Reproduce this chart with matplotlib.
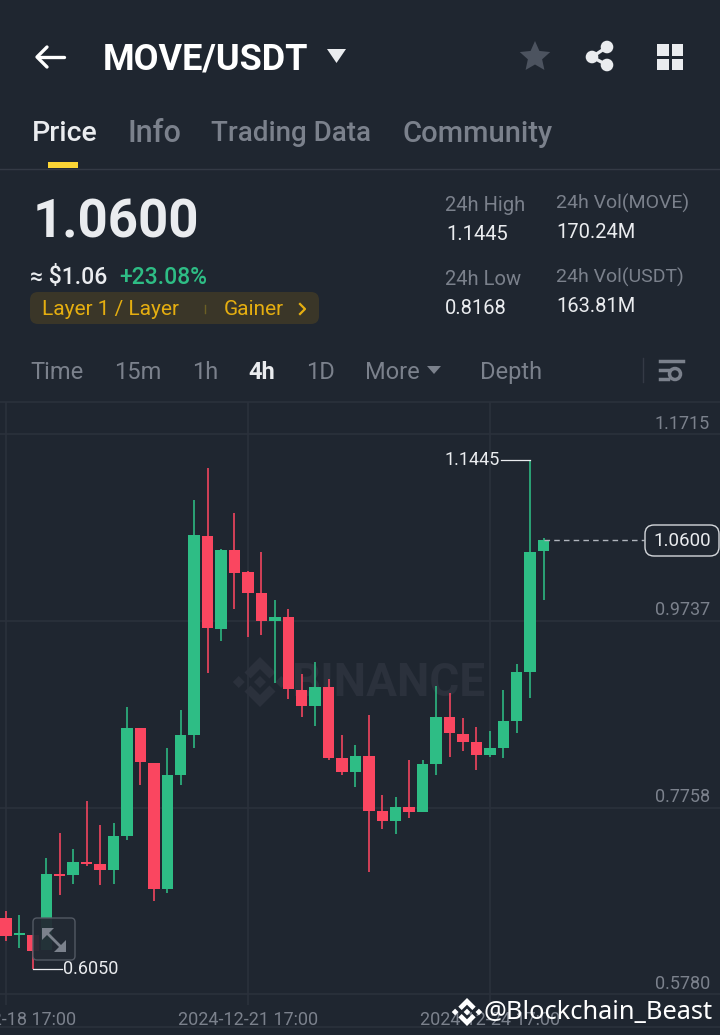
import matplotlib.pyplot as plt
from matplotlib.patches import FancyBboxPatch, Polygon, Circle, Rectangle
import numpy as np

plt.rcParams['font.family'] = ['Roboto', 'DejaVu Sans']

# 4h candles, left to right
opens = [0.6593, 0.6406, 0.6410, 0.6251, 0.7053, 0.7048, 0.7183, 0.7162, 0.7098, 0.7462, 0.8603,
         0.8235, 0.6900, 0.8105, 0.8526, 1.0637, 0.9655, 1.0492, 1.0253, 1.0037, 0.9733, 0.9779,
         0.9009, 0.8839, 0.9041, 0.8285, 0.8140, 0.8309, 0.7720, 0.7617, 0.7766, 0.7710, 0.8225,
         0.8716, 0.8543, 0.8455, 0.8317, 0.8394, 0.8680, 0.9196, 1.0478]
highs = [0.6664, 0.6618, 0.6410, 0.7229, 0.7490, 0.7324, 0.7829, 0.7578, 0.7593, 0.8822, 0.8603,
         0.8235, 0.8391, 0.8794, 1.1022, 1.1358, 1.0503, 1.0878, 1.0267, 1.0468, 0.9959, 0.9861,
         0.9175, 0.9302, 0.9119, 0.8526, 0.8423, 0.8741, 0.7893, 0.7869, 0.8261, 0.8264, 0.9048,
         0.8974, 0.8712, 0.8613, 0.8571, 0.9009, 0.9278, 1.1445, 1.0616]
lows = [0.6349, 0.6275, 0.6050, 0.6251, 0.6830, 0.6950, 0.7144, 0.6942, 0.6950, 0.7419, 0.7999,
        0.6767, 0.6855, 0.7996, 0.8394, 0.9186, 0.9528, 0.9864, 0.9564, 0.9592, 0.9080, 0.8913,
        0.8723, 0.8621, 0.8261, 0.8108, 0.7975, 0.7074, 0.7533, 0.7483, 0.7653, 0.7710, 0.8108,
        0.8299, 0.8362, 0.8161, 0.8296, 0.8288, 0.8547, 0.8924, 0.9956]
closes = [0.6402, 0.6428, 0.6237, 0.7053, 0.7031, 0.7180, 0.7165, 0.7098, 0.7459, 0.8603, 0.8246,
          0.6900, 0.8105, 0.8526, 1.0645, 0.9663, 1.0492, 1.0249, 1.0033, 0.9733, 0.9782, 0.9013,
          0.8839, 0.9041, 0.8285, 0.8140, 0.8309, 0.7723, 0.7621, 0.7766, 0.7716, 0.8225, 0.8716,
          0.8547, 0.8458, 0.8317, 0.8391, 0.8677, 0.9196, 1.0471, 1.0600]

price_ticks = [1.1715, 0.9737, 0.7758, 0.5780]
price_labels = ['1.1715', '0.9737', '0.7758', '0.5780']
time_ticks = [0, 18, 36]
time_labels = ['2024-12-18 17:00', '2024-12-21 17:00', '2024-12-24 17:00']
last_price = 1.0600
high_price = 1.1445
low_price = 0.6050

BG = '#1f2630'
GRID = '#2b313c'
GREEN = '#2ebd85'
RED = '#fa4660'
GREY = '#7b818c'
WHITE = '#eaecef'

W, H = 720, 1035
fig = plt.figure(figsize=(W / 100, H / 100), dpi=100, facecolor=BG)


def px_axes(z):
    a = fig.add_axes([0, 0, 1, 1], zorder=z)
    a.set_xlim(0, W)
    a.set_ylim(H, 0)
    a.axis('off')
    return a


under = px_axes(0)
over = px_axes(2)


def txt(s, x, y, size, color=GREY, weight='normal', ha='left', a=under, **kw):
    # +1.5: centre of the line box sits a bit above the glyphs
    a.text(x, y + 1.5, s, fontsize=size, color=color, fontweight=weight, ha=ha, va='center', **kw)


def diamond_logo(a, cx, cy, r, color):
    # four small diamonds around a centre one
    s = r * 0.24
    for dx, dy in [(0, 0), (-r * 0.85, 0), (r * 0.85, 0)]:
        a.add_patch(Polygon([(cx + dx - s, cy + dy), (cx + dx, cy + dy - s),
                             (cx + dx + s, cy + dy), (cx + dx, cy + dy + s)], color=color, lw=0))
    t = r * 0.24
    for sign in (-1, 1):
        a.add_patch(Polygon([(cx - r * 0.62, cy + sign * r * 0.38), (cx, cy + sign * r),
                             (cx + r * 0.62, cy + sign * r * 0.38), (cx + r * 0.62 - t, cy + sign * r * 0.38 - sign * t),
                             (cx, cy + sign * (r - 2 * t)), (cx - r * 0.62 + t, cy + sign * r * 0.38 - sign * t)],
                            color=color, lw=0))


# header
under.plot([38, 64], [57, 57], color='white', lw=2.4, solid_capstyle='round')
under.plot([47, 37, 47], [47, 57, 67], color='white', lw=2.4, solid_capstyle='round')
txt('MOVE/USDT', 103, 58, 26, 'white', 'bold')
under.add_patch(Polygon([(327, 49), (346, 49), (336.5, 63)], color=WHITE, lw=0))
ang = np.radians(np.arange(0, 360, 36) - 90)
rad = np.where(np.arange(10) % 2 == 0, 16, 7.5)
under.add_patch(Polygon(np.c_[535 + rad * np.cos(ang), 57 + rad * np.sin(ang)], color='#4c535f', lw=0))
under.plot([607, 592, 607], [47, 57, 65], color=WHITE, lw=2.4)
for cx, cy in [(592, 57), (607, 47), (607, 65)]:
    under.add_patch(Circle((cx, cy), 6.3, color=WHITE, lw=0))
for x0 in (657, 671.5):
    for y0 in (44, 58.5):
        under.add_patch(Rectangle((x0, y0), 11.5, 11.5, color=WHITE, lw=0))

# tabs
txt('Price', 32, 132, 20.5, WHITE, 'medium')
txt('Info', 127, 132, 22, GREY, 'medium')
txt('Trading Data', 211, 132, 20, GREY, 'medium')
txt('Community', 403, 132, 21, GREY, 'medium')
under.add_patch(Rectangle((48, 162), 30, 6, color='#fcd535', lw=0))
under.plot([0, W], [168.5, 168.5], color='#343a45', lw=1)

# price block
txt('1.0600', 33, 221, 38, WHITE, 'bold')
txt('≈ $1.06', 30, 276, 16.5, WHITE, 'medium')
txt('+23.08%', 119, 276, 16.5, GREEN, 'medium')
under.add_patch(FancyBboxPatch((36, 298), 277, 20, boxstyle='round,pad=6,rounding_size=8',
                               fc='#3a3628', ec='none'))
txt('Layer 1 / Layer', 42, 308, 15, '#e5ae10')
txt('Gainer', 224, 308, 15, '#e5ae10')
under.plot([204.5, 204.5], [305, 313], color='#6b5f24', lw=1)
under.plot([300, 305, 300], [304, 309, 314], color='#e5ae10', lw=1.6)

txt('24h High', 445, 204, 14.5)
txt('1.1445', 446, 233, 14.5, WHITE)
txt('24h Low', 445, 278, 14.5)
txt('0.8168', 445, 307, 14.5, WHITE)
txt('24h Vol(MOVE)', 556, 202, 14)
txt('170.24M', 556, 231, 14.5, WHITE)
txt('24h Vol(USDT)', 556, 276, 14)
txt('163.81M', 556, 305, 14.5, WHITE)

# interval row
for s, x in [('Time', 30), ('15m', 114), ('1h', 192), ('1D', 306), ('More', 365), ('Depth', 480)]:
    txt(s, x, 371, 17)
txt('4h', 248, 371, 17, WHITE, 'bold')
under.add_patch(Polygon([(427, 366), (441, 366), (434, 374)], color=GREY, lw=0))
under.plot([643, 643], [358, 382], color='#343a45', lw=1)
under.plot([660, 683], [361, 361], color=GREY, lw=2.5)
under.plot([660, 668], [370, 370], color=GREY, lw=2.5)
under.plot([660, 668], [379, 379], color=GREY, lw=2.5)
under.add_patch(Circle((675, 374), 5.5, fc='none', ec=GREY, lw=2.5))

# frame lines of the chart
under.plot([0, W], [402, 402], color=GRID, lw=1.2)
under.plot([0, W], [1027, 1027], color=GRID, lw=1.2)

# watermark sits below the candles
diamond_logo(under, 260, 682, 25, '#2b313c')
txt('BINANCE', 485, 681, 33, '#2b313c', 'bold', ha='right')

# chart
ax = fig.add_axes([0, (H - 1005) / H, 1, (1005 - 402) / H], zorder=1)
ax.patch.set_alpha(0)
ax.set_xlim(-0.446, 53.125)
ax.set_ylim(0.5668, 1.2057)
for sp in ax.spines.values():
    sp.set_visible(False)
ax.set_xticks(time_ticks)
ax.set_xticklabels(time_labels, fontsize=13, color=GREY)
ax.set_yticks(price_ticks)
ax.set_yticklabels([])
ax.tick_params(length=0, pad=4)
ax.grid(True, color=GRID, lw=1.2)
ax.set_axisbelow(True)

idx = np.arange(len(opens))
o, h, l, c = map(np.array, (opens, highs, lows, closes))
up = c >= o
colors = np.where(up, GREEN, RED)
ax.vlines(idx, l, h, colors=colors, lw=1.15, zorder=3)
ax.bar(idx, np.abs(c - o), bottom=np.minimum(o, c), width=0.85, color=colors, lw=0, zorder=4)

for p, s in zip(price_ticks, price_labels):
    ax.annotate(s, (710, p), xycoords=('figure pixels', 'data'), xytext=(0, 10.5), textcoords='offset pixels',
                ha='right', va='center', fontsize=13, color=GREY)

# high / low / last markers
hi_i = highs.index(high_price)
lo_i = lows.index(low_price)
ax.plot([hi_i - 2.2, hi_i], [high_price, high_price], color=WHITE, lw=0.9, zorder=5)
ax.text(hi_i - 2.25, high_price, '1.1445', color=WHITE, fontsize=13, ha='right', va='center', zorder=5)
ax.plot([lo_i, lo_i + 2.2], [low_price, low_price], color=WHITE, lw=0.9, zorder=5)
ax.text(lo_i + 2.25, low_price, '0.6050', color=WHITE, fontsize=13, ha='left', va='center', zorder=5)
ax.plot([len(opens) - 1, 47.5], [last_price, last_price], color='#b0b5bd', lw=1, ls=(0, (4, 3)), zorder=5)

# last price tag
over.add_patch(FancyBboxPatch((652, 532), 60, 17, boxstyle='round,pad=7,rounding_size=9',
                              fc=BG, ec='#d5d8dc', lw=1))
txt('1.0600', 682, 540, 13.5, WHITE, ha='center', a=over)

# fullscreen button
over.add_patch(FancyBboxPatch((36, 921), 36, 36, boxstyle='round,pad=3,rounding_size=4',
                              fc='#232a34', ec='#555b66', lw=1, alpha=0.95))
over.plot([45, 62], [931, 948], color=GREY, lw=2)
over.add_patch(Polygon([(42, 928), (54, 928), (42, 940)], color=GREY, lw=0))
over.add_patch(Polygon([(66, 952), (54, 952), (66, 940)], color=GREY, lw=0))

# repost credit on top of everything
diamond_logo(over, 467, 1012, 14, 'white')
txt('@Blockchain_Beast', 713, 1011, 18.3, 'white', ha='right', a=over, family='Noto Sans')

fig.savefig('out.png', dpi=100, facecolor=BG)
